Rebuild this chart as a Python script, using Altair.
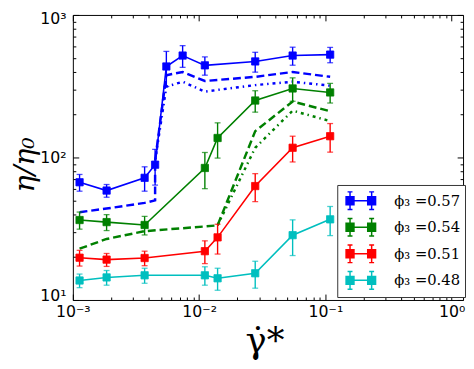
import altair as alt
import pandas as pd

# ---------------- data ----------------
series = ["ϕ₃ =0.57", "ϕ₃ =0.54", "ϕ₃ =0.51", "ϕ₃ =0.48"]
colors = ["#0000ff", "#008000", "#ff0000", "#00bfbf"]

x_blue = [1.13e-3, 1.85e-3, 3.7e-3, 4.48e-3, 5.5e-3, 7.4e-3, 1.11e-2, 2.78e-2, 5.5e-2, 0.109]
y_blue = [67, 58.6, 72, 89, 435, 519, 443, 472, 519, 527]
e_blue = [9, 6, 14, 25, 120, 90, 65, 75, 75, 65]

x_other = [1.13e-3, 1.85e-3, 3.7e-3, 1.11e-2, 1.4e-2, 2.78e-2, 5.5e-2, 0.109]
y_green = [36.4, 35.2, 33.6, 84.4, 137, 251, 305, 286]
e_green = [5, 4.5, 5, 24, 38, 43, 57, 45]
y_red = [19.8, 19.2, 19.7, 22.0, 27.5, 63, 117, 141]
e_red = [2.5, 2, 2.3, 4, 6.5, 14, 24, 32]
y_cyan = [13.7, 14.4, 14.9, 14.9, 14.2, 15.4, 28.5, 36.8]
e_cyan = [1.5, 1.7, 1.8, 2.2, 2.5, 3.3, 8, 8.5]

# model curves (dashed / dash-dot)
x_blue_dashed = [1.13e-3, 1.85e-3, 3.7e-3, 4.48e-3, 4.48e-3, 5.5e-3, 7.4e-3, 1.11e-2, 2.78e-2, 5.5e-2, 0.109]
y_blue_dashed = [41.3, 43.8, 48, 50, 95, 378, 398, 344, 368, 398, 368]
x_blue_dotted = [4.48e-3, 5.5e-3, 7.4e-3, 1.11e-2, 2.78e-2, 5.5e-2, 0.109]
y_blue_dotted = [95, 314, 340, 290, 322, 340, 319]
x_green_dashed = [1.13e-3, 1.85e-3, 3.7e-3, 1.11e-2, 1.4e-2, 2.78e-2, 5.5e-2, 0.109]
y_green_dashed = [22.9, 26.8, 30.4, 32.8, 33.4, 153, 247, 211]
x_green_dotted = [1.4e-2, 2.78e-2, 5.5e-2, 0.109]
y_green_dotted = [33.4, 117, 213, 180]

X_MAJOR = [0.001, 0.01, 0.1, 1]
X_MINOR = [m * d for d in (0.001, 0.01, 0.1) for m in range(2, 10)]
Y_MAJOR = [10, 100, 1000]
Y_MINOR = [m * d for d in (10, 100) for m in range(2, 10)]

colmap = dict(zip(series, colors))

# ---------------- tables ----------------
rows = []
for s, xs_, ys_, es_ in [(series[0], x_blue, y_blue, e_blue),
                         (series[1], x_other, y_green, e_green),
                         (series[2], x_other, y_red, e_red),
                         (series[3], x_other, y_cyan, e_cyan)]:
    for i, (x, y, e) in enumerate(zip(xs_, ys_, es_)):
        rows.append({"series": s, "col": colmap[s], "i": i, "x": x, "y": y,
                     "lo": y - e, "hi": y + e})
obs = pd.DataFrame(rows)

caps = pd.concat([obs.assign(yc=obs["lo"]), obs.assign(yc=obs["hi"])], ignore_index=True)


def curve(s, xs_, ys_):
    return pd.DataFrame({"series": s, "col": colmap[s], "i": range(len(xs_)),
                         "x": xs_, "y": ys_})


dashed = pd.concat([curve(series[0], x_blue_dashed, y_blue_dashed),
                    curve(series[1], x_green_dashed, y_green_dashed)], ignore_index=True)
dotted = pd.concat([curve(series[0], x_blue_dotted, y_blue_dotted),
                    curve(series[1], x_green_dotted, y_green_dotted)], ignore_index=True)

# ---------------- scales & axes ----------------
xs = alt.Scale(type="log", domain=[0.001, 1.23], nice=False)
ys = alt.Scale(type="log", domain=[10, 1000], nice=False)
cs = alt.Scale(domain=series, range=colors)

XL = ("datum.value < 0.005 ? '10⁻³' : datum.value < 0.05 ? '10⁻²' : "
      "datum.value < 0.5 ? '10⁻¹' : '10⁰'")
YL = "datum.value < 50 ? '10¹' : datum.value < 500 ? '10²' : '10³'"


def tick_axis(orient, values, size):
    return alt.Axis(orient=orient, values=values, labels=False, ticks=True,
                    tickSize=size, offset=-size, domain=False, grid=False,
                    tickColor="black", tickWidth=1, title=None)


x_label_axis = alt.Axis(orient="bottom", values=X_MAJOR, labelExpr=XL, ticks=False,
                        tickSize=0, domain=False, grid=False, labelPadding=4,
                        labelFont="DejaVu Sans", labelFontSize=16, labelColor="black",
                        labelOverlap=False, labelFlush=False,
                        title="γ̇*", titleFont="DejaVu Serif", titleFontSize=36,
                        titleFontWeight="normal", titleColor="black",
                        titleX=195, titleY=53, titleBaseline="alphabetic",
                        titleAlign="center")
y_label_axis = alt.Axis(orient="left", values=Y_MAJOR, labelExpr=YL, ticks=False,
                        tickSize=0, domain=False, grid=False, labelPadding=7,
                        labelFont="DejaVu Sans", labelFontSize=16, labelColor="black",
                        labelOverlap=False, labelFlush=True, labelFlushOffset=4,
                        title="η/η₀", titleFont="DejaVu Serif", titleFontSize=29,
                        titleFontStyle="italic", titleFontWeight="normal",
                        titleColor="black", titleX=-40, titleY=152,
                        titleBaseline="alphabetic", titleAlign="center", titleAngle=270)

LEG_PATH = ("M-1.5,-0.4H-0.7V0.4H-1.5Z M0.7,-0.4H1.5V0.4H0.7Z M-1.1,0H1.1 "
            "M-1.1,-0.9V0.9 M1.1,-0.9V0.9 M-1.35,-0.9H-0.85 M-1.35,0.9H-0.85 "
            "M0.85,-0.9H1.35 M0.85,0.9H1.35")
legend = alt.Legend(orient="none", legendX=269, legendY=173, title=None,
                    symbolType=LEG_PATH, symbolSize=400, symbolStrokeWidth=1.5,
                    symbolOffset=8, labelOffset=23, labelFont="DejaVu Serif",
                    labelFontSize=15, labelColor="black", labelLimit=300,
                    padding=5, rowPadding=3, strokeColor="#333333",
                    fillColor="white", cornerRadius=0)

col = alt.Color("col:N", scale=None)

solid = alt.Chart(obs).mark_line(strokeWidth=1.6).encode(
    x=alt.X("x:Q", scale=xs, axis=x_label_axis),
    y=alt.Y("y:Q", scale=ys, axis=y_label_axis),
    color=col, detail="series:N", order="i:Q")

dash_l = alt.Chart(dashed).mark_line(strokeWidth=2.5, strokeDash=[8, 4]).encode(
    x=alt.X("x:Q", scale=xs, axis=tick_axis("bottom", X_MAJOR, 6)),
    y=alt.Y("y:Q", scale=ys, axis=tick_axis("left", Y_MAJOR, 6)),
    color=col, detail="series:N", order="i:Q")

dot_l = alt.Chart(dotted).mark_line(strokeWidth=2.5, strokeDash=[3, 4, 1.5, 4]).encode(
    x=alt.X("x:Q", scale=xs, axis=tick_axis("bottom", X_MINOR, 3)),
    y=alt.Y("y:Q", scale=ys, axis=tick_axis("left", Y_MINOR, 3)),
    color=col, detail="series:N", order="i:Q")

err = alt.Chart(obs).mark_rule(strokeWidth=1.4).encode(
    x=alt.X("x:Q", scale=xs, axis=tick_axis("top", X_MAJOR, 6)),
    y=alt.Y("lo:Q", scale=ys, axis=tick_axis("right", Y_MAJOR, 6)),
    y2="hi:Q", color=col)

cap = alt.Chart(caps).mark_tick(orient="horizontal", size=6, thickness=1.3).encode(
    x=alt.X("x:Q", scale=xs, axis=tick_axis("top", X_MINOR, 3)),
    y=alt.Y("yc:Q", scale=ys, axis=tick_axis("right", Y_MINOR, 3)),
    color=col)

pts = alt.Chart(obs).mark_point(shape="square", filled=True, size=55, opacity=1,
                                strokeWidth=0.8).encode(
    x=alt.X("x:Q", scale=xs, axis=None),
    y=alt.Y("y:Q", scale=ys, axis=None),
    fill=alt.Fill("series:N", scale=cs, legend=legend),
    stroke=alt.Stroke("series:N", scale=cs, legend=legend))

chart = alt.layer(solid, dash_l, dot_l, err, cap, pts).resolve_axis(
    x="independent", y="independent"
).properties(
    width=397, height=290,
    autosize=alt.AutoSizeParams(type="none"),
    padding={"left": 66, "top": 4, "right": 3, "bottom": 59},
    background="white",
).configure_view(stroke="black", strokeWidth=1)

chart.save("out.html", embed_options={"renderer": "svg", "actions": False})
